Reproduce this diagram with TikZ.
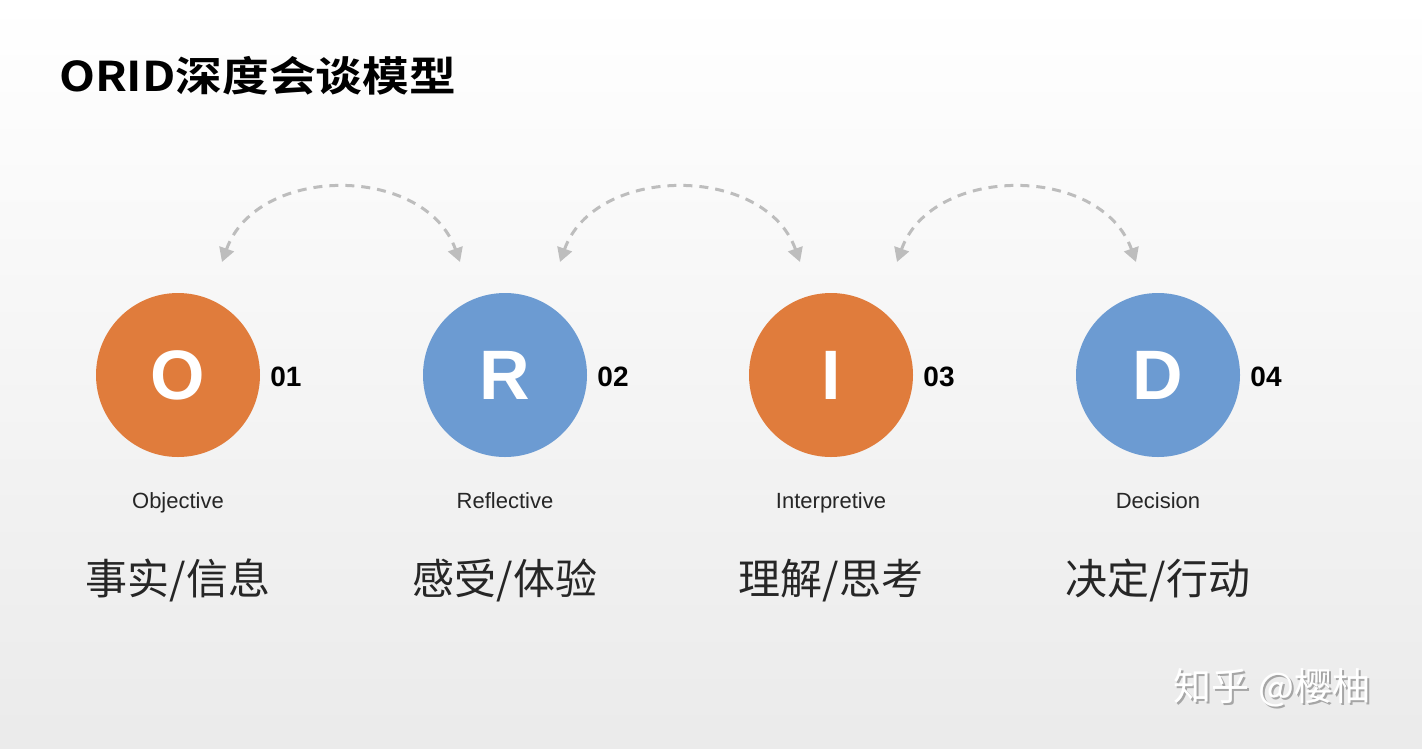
\documentclass[tikz,border=0pt]{standalone}
\usepackage{fontspec}
\setmainfont{Liberation Sans}
\newfontfamily\cjk{Noto Sans CJK SC}
\newfontfamily\cjkb{Noto Sans CJK SC Bold}
\usetikzlibrary{arrows.meta,calc}
\definecolor{orng}{HTML}{E07C3C}
\definecolor{blu}{HTML}{6C9BD2}
\definecolor{arc}{HTML}{BDBDBD}
\begin{document}
\begin{tikzpicture}[x=1pt,y=-1pt,
  circ/.style={circle,minimum size=164pt,inner sep=0pt,text=white,font=\fontsize{70}{70}\selectfont\bfseries},
  num/.style={font=\fontsize{28}{28}\selectfont\bfseries,text=black},
  eng/.style={anchor=base,font=\fontsize{22}{22}\selectfont,text=black!85},
  chn/.style={anchor=base,font=\cjk\fontsize{42}{42}\selectfont,text=black!85},
  dasharc/.style={draw=arc,line width=3pt,dash pattern=on 9pt off 7pt,{Triangle[width=15pt,length=14pt]}-{Triangle[width=15pt,length=14pt]}}]
\shade[top color=white,bottom color=black!8] (0,0) rectangle (1422,748);
\useasboundingbox (0,0) rectangle (1422,748);
\node[anchor=west,font=\cjkb\fontsize{41}{41}\selectfont,xscale=1.14] (title) at (55,76) {ORID深度会谈模型};
\foreach \i/\x/\c/\l/\n/\e/\z in {1/178/orng/O/01/Objective/{事实/信息}, 2/505/blu/R/02/Reflective/{感受/体验}, 3/831/orng/I/03/Interpretive/{理解/思考}, 4/1158/blu/D/04/Decision/{决定/行动}}{
  \node[circ,fill=\c] (c\i) at (\x,375) {\l};
  \node[num] (n\i) at (\x+108,377) {\n};
  \node[eng] (e\i) at (\x,508) {\e};
  \node[chn] (z\i) at (\x,594) {\z};
}
\coordinate (a1) at (222,262); \coordinate (b1) at (460,262);
\coordinate (a2) at (560,262); \coordinate (b2) at (800,262);
\coordinate (a3) at (897,262); \coordinate (b3) at (1136,262);
\foreach \i in {1,2,3}{
  \path[dasharc] (a\i) .. controls ($(a\i)+(35,-98)$) and ($(b\i)+(-35,-98)$) .. (b\i);
}
\node[font=\cjk\fontsize{38}{38}\selectfont,text=black!35] (wms) at (1274,690) {知乎 @樱柚};
\node[font=\cjk\fontsize{38}{38}\selectfont,text=white] (wm) at (1272,688) {知乎 @樱柚};
\end{tikzpicture}
\end{document}
